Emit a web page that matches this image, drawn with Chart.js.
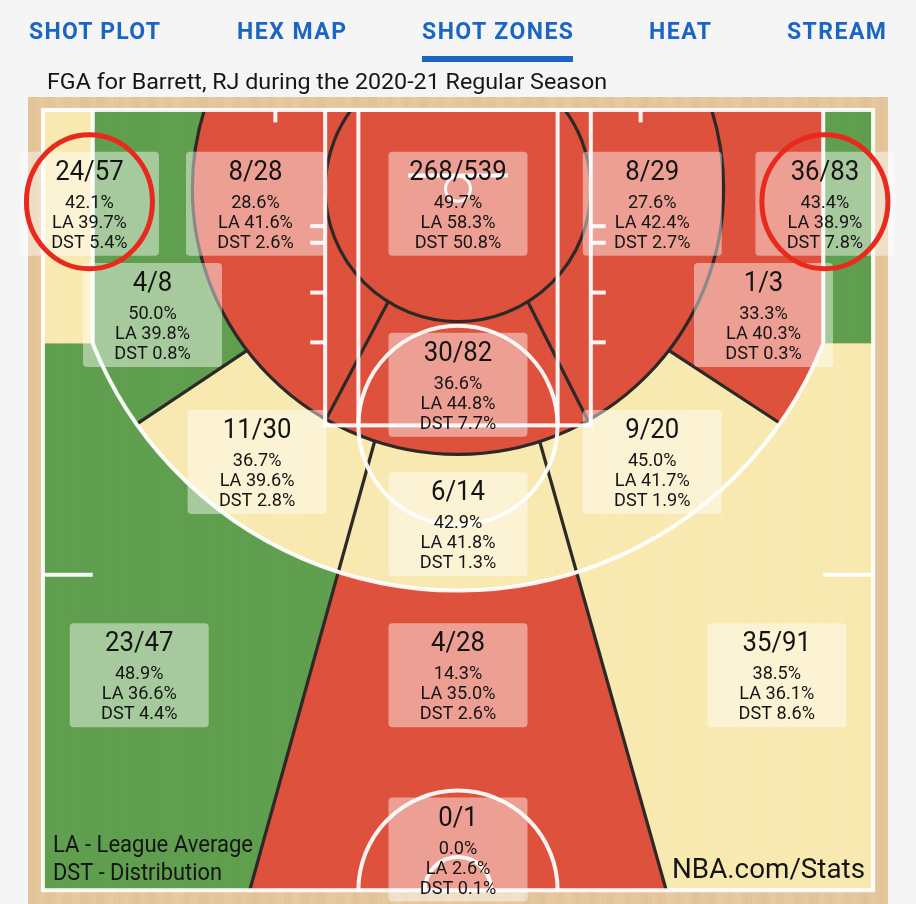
<!DOCTYPE html>
<html>
<head>
<meta charset="utf-8">
<title>Shot Zones</title>
<script src="https://cdn.jsdelivr.net/npm/chart.js@4.4.1/dist/chart.umd.min.js"></script>
<style>
  html, body { margin: 0; padding: 0; background: #f5f5f5; }
  body { position: relative; width: 916px; height: 904px; overflow: hidden; font-family: Roboto, "Noto Sans", sans-serif; }
  #court { position: absolute; left: 0; top: 0; }
  .tab { position: absolute; top: 20px; font-size: 23px; line-height: 23px; font-weight: 700; color: #1b66c3; white-space: nowrap; }
  .bar { position: absolute; left: 422px; top: 56px; width: 151px; height: 6px; background: #1b66c3; }
  #title { position: absolute; left: 47px; top: 70px; font-size: 22.5px; line-height: 22.5px; color: #151515; white-space: nowrap; transform-origin: 0 0; }
</style>
</head>
<body>
<canvas id="court" width="916" height="904"></canvas>
<div class="tab" data-w="131" style="left:29px">SHOT PLOT</div>
<div class="tab" data-w="109" style="left:237px">HEX MAP</div>
<div class="tab" data-w="151" style="left:422px">SHOT ZONES</div>
<div class="tab" data-w="62" style="left:649px">HEAT</div>
<div class="tab" data-w="99" style="left:787px">STREAM</div>
<div class="bar"></div>
<div id="title" data-w="560">FGA for Barrett, RJ during the 2020-21 Regular Season</div>
<script>
// --- Data ---
const zoneNames = ['Left Corner 3', 'Left Side 8-16 ft.', 'Less Than 8 ft.', 'Right Side 8-16 ft.', 'Right Corner 3',
  'Left Side 16-24 ft.', 'Right Side 16-24 ft.', 'Center 8-16 ft.', 'Left Side Center 16-24 ft.',
  'Right Side Center 16-24 ft.', 'Center 16-24 ft.', 'Left Side Center 24+ ft.', 'Center 24+ ft.',
  'Right Side Center 24+ ft.', 'Back Court'];
const made = [24, 8, 268, 8, 36, 4, 1, 30, 11, 9, 6, 23, 4, 35, 0];
const attempts = [57, 28, 539, 29, 83, 8, 3, 82, 30, 20, 14, 47, 28, 91, 1];
const leagueAvg = [39.7, 41.6, 58.3, 42.4, 38.9, 39.8, 40.3, 44.8, 39.6, 41.7, 41.8, 36.6, 35.0, 36.1, 2.6];
const distribution = [5.4, 2.6, 50.8, 2.7, 7.8, 0.8, 0.3, 7.7, 2.8, 1.9, 1.3, 4.4, 2.6, 8.6, 0.1];
// label spots in court feet (basket at 0,0)
const labelX = [-22.2, -12.2, 0, 11.7, 22.1, -18.4, 18.4, 0, -12.1, 11.7, 0, -19.2, 0, 19.2, 0];
const labelY = [0.9, 0.9, 0.9, 0.9, 0.9, 7.6, 7.6, 11.8, 16.45, 16.45, 20.2, 29.3, 29.3, 29.3, 39.8];
const circled = [0, 4];

// --- Court geometry (feet) ---
const R3 = 23.7, ARC_Y = 0.5;           // three point arc radius and centre
const YC = ARC_Y + Math.sqrt(R3 * R3 - 22 * 22);
const S8L = [[-4.3, 6.99], [-7.9, 13.8]], S8R = [[4.25, 6.9], [7.8, 13.9]];
const SBL = [[-12.95, 9.9], [-19.1, 14.0]], SBR = [[12.95, 9.9], [18.9, 13.8]];
const SCL = [[-5.1, 15.5], [-12.5, 42.1]], SCR = [[5.0, 15.5], [12.5, 42.1]];

const RED = 'rgba(221,68,50,0.9)';
const GREEN = 'rgba(80,154,70,0.9)';
const YELLOW = 'rgba(250,238,180,0.88)';

function zoneColor(i) {
  const pct = made[i] / attempts[i] * 100;
  const ratio = pct / leagueAvg[i];
  if (ratio >= 1.1) return GREEN;
  if (ratio <= 0.9) return RED;
  return YELLOW;
}

// --- clip helpers ---
function clipRect(g, x1, y1, x2, y2) {
  const c = g.ctx;
  c.beginPath();
  c.rect(g.X(x1), g.Y(y1), g.X(x2) - g.X(x1), g.Y(y2) - g.Y(y1));
  c.clip();
}
function clipIn(g, r) {
  const c = g.ctx;
  c.beginPath();
  c.arc(g.cx, g.cy, r * g.s, 0, Math.PI * 2);
  c.clip();
}
function clipOut(g, r) {
  const c = g.ctx;
  c.beginPath();
  c.rect(0, 0, c.canvas.width, c.canvas.height);
  c.moveTo(g.cx + r * g.s, g.cy);
  c.arc(g.cx, g.cy, r * g.s, 0, Math.PI * 2);
  c.clip('evenodd');
}
function clipSide(g, line, keep) {
  const c = g.ctx;
  const [a, b] = line;
  let ux = b[0] - a[0], uy = b[1] - a[1];
  const len = Math.hypot(ux, uy);
  ux /= len; uy /= len;
  let nx = -uy, ny = ux;
  if ((keep[0] - a[0]) * nx + (keep[1] - a[1]) * ny < 0) { nx = -nx; ny = -ny; }
  const L = 200;
  const pts = [
    [a[0] - ux * L, a[1] - uy * L],
    [a[0] + ux * L, a[1] + uy * L],
    [a[0] + ux * L + nx * L, a[1] + uy * L + ny * L],
    [a[0] - ux * L + nx * L, a[1] - uy * L + ny * L]
  ];
  c.beginPath();
  pts.forEach((p, i) => i ? c.lineTo(g.X(p[0]), g.Y(p[1])) : c.moveTo(g.X(p[0]), g.Y(p[1])));
  c.closePath();
  c.clip();
}
function path3(g, close) {
  const c = g.ctx;
  c.moveTo(g.X(-22), g.Y(-4.75));
  c.lineTo(g.X(-22), g.Y(YC));
  c.arc(g.X(0), g.Y(ARC_Y), R3 * g.s, Math.atan2(YC - ARC_Y, -22), Math.atan2(YC - ARC_Y, 22), true);
  c.lineTo(g.X(22), g.Y(-4.75));
  if (close) c.closePath();
}
function clipIn3(g) { g.ctx.beginPath(); path3(g, true); g.ctx.clip(); }
function clipOut3(g) {
  const c = g.ctx;
  c.beginPath();
  c.rect(0, 0, c.canvas.width, c.canvas.height);
  path3(g, true);
  c.clip('evenodd');
}

// one clip recipe per zone, same order as the data arrays
const zoneShapes = [
  g => clipRect(g, -25, -4.75, -22, YC),
  g => { clipIn(g, 16); clipOut(g, 8); clipSide(g, S8L, [-20, 0]); },
  g => clipIn(g, 8),
  g => { clipIn(g, 16); clipOut(g, 8); clipSide(g, S8R, [20, 0]); },
  g => clipRect(g, 22, -4.75, 25, YC),
  g => { clipIn3(g); clipOut(g, 16); clipSide(g, SBL, [-20, 0]); },
  g => { clipIn3(g); clipOut(g, 16); clipSide(g, SBR, [20, 0]); },
  g => { clipIn(g, 16); clipOut(g, 8); clipSide(g, S8L, [0, 12]); clipSide(g, S8R, [0, 12]); },
  g => { clipIn3(g); clipOut(g, 16); clipSide(g, SBL, [0, 20]); clipSide(g, SCL, [-20, 15]); },
  g => { clipIn3(g); clipOut(g, 16); clipSide(g, SBR, [0, 20]); clipSide(g, SCR, [20, 15]); },
  g => { clipIn3(g); clipOut(g, 16); clipSide(g, SCL, [0, 20]); clipSide(g, SCR, [0, 20]); },
  g => { clipOut3(g); clipRect(g, -25, YC, 25, 42.25); clipSide(g, SCL, [-20, 30]); },
  g => { clipOut3(g); clipSide(g, SCL, [0, 30]); clipSide(g, SCR, [0, 30]); },
  g => { clipOut3(g); clipRect(g, -25, YC, 25, 42.25); clipSide(g, SCR, [20, 30]); },
  g => clipRect(g, -25, 42.25, 25, 47)
];

// point where a boundary line meets a circle (far side along the line)
function hitCircle(line, r, cy) {
  const [a0, b] = line;
  const a = [a0[0], a0[1] - (cy || 0)];
  let ux = b[0] - a0[0], uy = b[1] - a0[1];
  const len = Math.hypot(ux, uy);
  ux /= len; uy /= len;
  const d = a[0] * ux + a[1] * uy;
  const t = -d + Math.sqrt(d * d - (a[0] * a[0] + a[1] * a[1]) + r * r);
  return [a0[0] + ux * t, a0[1] + uy * t];
}
function hitY(line, y) {
  const [a, b] = line;
  const t = (y - a[1]) / (b[1] - a[1]);
  return [a[0] + (b[0] - a[0]) * t, y];
}

function geo(chart) {
  const xs = chart.scales.x, ys = chart.scales.y;
  const X = v => xs.getPixelForValue(v), Y = v => ys.getPixelForValue(v);
  return { ctx: chart.ctx, X, Y, s: X(1) - X(0), cx: X(0), cy: Y(0) };
}

function condensed(ctx, text, x, y, k) {
  ctx.save();
  ctx.translate(x, y);
  ctx.scale(k, 1);
  ctx.fillText(text, 0, 0);
  ctx.restore();
}
function fitText(ctx, text, x, y, width, align) {
  const w = ctx.measureText(text).width;
  ctx.save();
  ctx.textAlign = align;
  ctx.translate(x, y);
  ctx.scale(width / w, 1);
  ctx.fillText(text, 0, 0);
  ctx.restore();
}

const courtPlugin = {
  id: 'court',
  beforeDatasetsDraw(chart) {
    const g = geo(chart);
    const ctx = g.ctx;
    const a = chart.chartArea;

    // wood floor
    ctx.save();
    ctx.fillStyle = '#e7caa0';
    ctx.fillRect(a.left, a.top, a.right - a.left, a.bottom - a.top);
    for (let i = 0; i < a.right - a.left; i += 2) {
      const v = Math.sin(i * 0.37) * 0.5 + Math.sin(i * 0.113 + 1) * 0.3 + Math.sin(i * 1.7) * 0.2;
      ctx.fillStyle = 'rgba(150,95,40,' + Math.max(0, 0.03 + 0.05 * v).toFixed(3) + ')';
      ctx.fillRect(a.left + i, a.top, 2, a.bottom - a.top);
    }
    ctx.restore();

    // zones
    zoneShapes.forEach((shape, i) => {
      ctx.save();
      clipRect(g, -25, -4.75, 25, 42.25);
      shape(g);
      ctx.fillStyle = zoneColor(i);
      ctx.fillRect(0, 0, ctx.canvas.width, ctx.canvas.height);
      ctx.restore();
    });

    // dark zone borders
    ctx.save();
    clipRect(g, -25, -4.75, 25, 42.25);
    ctx.strokeStyle = '#2d2926';
    ctx.lineWidth = 3.2;
    [8, 16].forEach(r => {
      ctx.beginPath();
      ctx.arc(g.cx, g.cy, r * g.s, 0, Math.PI * 2);
      ctx.stroke();
    });
    const seg = (p, q) => {
      ctx.beginPath();
      ctx.moveTo(g.X(p[0]), g.Y(p[1]));
      ctx.lineTo(g.X(q[0]), g.Y(q[1]));
      ctx.stroke();
    };
    [S8L, S8R].forEach(l => seg(hitCircle(l, 8), hitCircle(l, 16)));
    [SBL, SBR].forEach(l => seg(hitCircle(l, 16), hitCircle(l, R3, ARC_Y)));
    [SCL, SCR].forEach(l => seg(hitCircle(l, 16), hitY(l, 42.25)));
    ctx.restore();

    // white court lines
    ctx.save();
    ctx.strokeStyle = 'rgba(255,255,255,0.93)';
    ctx.lineWidth = 4;
    const line = (x1, y1, x2, y2) => {
      ctx.beginPath();
      ctx.moveTo(g.X(x1), g.Y(y1));
      ctx.lineTo(g.X(x2), g.Y(y2));
      ctx.stroke();
    };
    ctx.strokeRect(g.X(-25), g.Y(-4.75), g.X(25) - g.X(-25), g.Y(42.25) - g.Y(-4.75));
    ctx.strokeRect(g.X(-8), g.Y(-4.75), g.X(8) - g.X(-8), g.Y(14.25) - g.Y(-4.75));
    line(-6, -4.75, -6, 14.25);
    line(6, -4.75, 6, 14.25);
    ctx.beginPath();
    ctx.arc(g.X(0), g.Y(14.25), 6 * g.s, 0, Math.PI * 2);
    ctx.stroke();
    ctx.beginPath();
    path3(g, false);
    ctx.stroke();
    line(-3, -0.8, 3, -0.8);
    [2.25, 3.25, 6.25, 9.25].forEach(y => { line(-8, y, -8.9, y); line(8, y, 8.9, y); });
    line(-11, -4.75, -11, -4.0);
    line(11, -4.75, 11, -4.0);
    line(-25, 23.25, -22, 23.25);
    line(25, 23.25, 22, 23.25);
    ctx.save();
    clipRect(g, -25, -4.75, 25, 42.25);
    [6, 2].forEach(r => {
      ctx.beginPath();
      ctx.arc(g.X(0), g.Y(42.25), r * g.s, 0, Math.PI * 2);
      ctx.stroke();
    });
    ctx.restore();
    ctx.lineWidth = 3;
    ctx.beginPath();
    ctx.arc(g.cx, g.cy, 0.75 * g.s, 0, Math.PI * 2);
    ctx.stroke();
    ctx.restore();
  },
  afterDatasetsDraw(chart) {
    const ctx = chart.ctx;
    const pts = chart.getDatasetMeta(0).data;

    // label boxes
    pts.forEach((p, i) => {
      const left = p.x - 69.5, top = p.y - 52;
      ctx.save();
      ctx.fillStyle = 'rgba(255,255,255,0.45)';
      ctx.beginPath();
      ctx.roundRect(left, top, 139, 104, 4);
      ctx.fill();
      ctx.fillStyle = '#141414';
      ctx.textAlign = 'center';
      ctx.textBaseline = 'alphabetic';
      const pct = (made[i] / attempts[i] * 100).toFixed(1);
      ctx.font = '28px Roboto';
      condensed(ctx, made[i] + '/' + attempts[i], p.x, top + 28, 0.92);
      ctx.font = '18.5px Roboto';
      condensed(ctx, pct + '%', p.x, top + 56, 0.98);
      condensed(ctx, 'LA ' + leagueAvg[i].toFixed(1) + '%', p.x, top + 76, 0.98);
      condensed(ctx, 'DST ' + distribution[i].toFixed(1) + '%', p.x, top + 96, 0.98);
      ctx.restore();
    });

    // red highlight rings
    circled.forEach(i => {
      const p = pts[i];
      ctx.save();
      ctx.strokeStyle = '#e8291c';
      ctx.lineWidth = 5;
      ctx.beginPath();
      ctx.ellipse(p.x, p.y - 2, 63, 67, 0, 0, Math.PI * 2);
      ctx.stroke();
      ctx.restore();
    });

    // footnotes
    ctx.save();
    ctx.fillStyle = '#151515';
    ctx.textBaseline = 'alphabetic';
    ctx.font = '24px Roboto';
    fitText(ctx, 'LA - League Average', 53, 852, 200, 'left');
    fitText(ctx, 'DST - Distribution', 53, 880, 169, 'left');
    ctx.font = '28px Roboto';
    fitText(ctx, 'NBA.com/Stats', 865, 878, 193, 'right');
    ctx.restore();
  }
};

new Chart(document.getElementById('court'), {
  type: 'scatter',
  data: {
    datasets: [{
      label: 'FGA',
      data: labelX.map((x, i) => ({ x, y: labelY[i] })),
      pointRadius: 0,
      pointHoverRadius: 0
    }]
  },
  options: {
    responsive: false,
    animation: false,
    events: [],
    layout: { padding: { left: 28, right: 28, top: 97, bottom: 0 } },
    scales: {
      x: { type: 'linear', min: -25.9, max: 25.9, display: false },
      y: { type: 'linear', min: -5.53, max: 43.08, reverse: true, display: false }
    },
    plugins: { legend: { display: false }, tooltip: { enabled: false } }
  },
  plugins: [courtPlugin]
});

// spread tab letters / squeeze the title to the widths seen in the original
document.querySelectorAll('.tab').forEach(el => {
  const w = el.getBoundingClientRect().width;
  const n = el.textContent.length - 1;
  el.style.letterSpacing = ((+el.dataset.w - w) / n) + 'px';
});
const title = document.getElementById('title');
title.style.transform = 'scaleX(' + (+title.dataset.w / title.getBoundingClientRect().width) + ')';
</script>
</body>
</html>
